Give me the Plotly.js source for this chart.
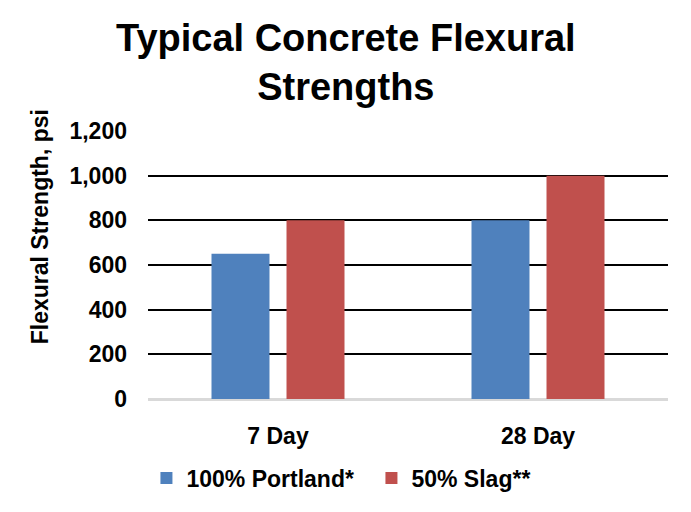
<!DOCTYPE html>
<html>
<head>
<meta charset="utf-8">
<script src="https://cdn.plot.ly/plotly-3.0.1.min.js"></script>
<style>html,body{margin:0;padding:0;background:#fff;}#chart{width:691px;height:512px;}</style>
</head>
<body>
<div id="chart"></div>
<script>
const categories = ['7 Day', '28 Day'];
const seriesNames = ['100% Portland*', '50% Slag**'];
const portland = [650, 800];
const slag = [800, 1000];
const yTickVals = [0, 200, 400, 600, 800, 1000, 1200];
const yTickText = ['0', '200', '400', '600', '800', '1,000', '1,200'];

const F = 'Liberation Sans, Arial, sans-serif';
const data = [
  {type: 'bar', x: categories, y: portland, name: seriesNames[0], marker: {color: '#4F81BD'}},
  {type: 'bar', x: categories, y: slag, name: seriesNames[1], marker: {color: '#C0504D'}}
];
const layout = {
  width: 691, height: 512,
  margin: {l: 148, r: 23, t: 131, b: 109},
  paper_bgcolor: '#fff', plot_bgcolor: '#fff',
  barmode: 'group', bargap: 0.423, bargroupgap: 0.227,
  showlegend: true,
  font: {family: F, color: '#000'},
  xaxis: {showgrid: false, showline: true, linecolor: '#d9d9d9', linewidth: 2,
          tickfont: {family: F, size: 23, color: '#000', weight: 'bold'}, ticks: '',
          ticklabelstandoff: 15, fixedrange: true},
  yaxis: {range: [0, 1200], tickvals: yTickVals, ticktext: yTickText, showgrid: true,
          gridcolor: '#000', gridwidth: 2, zeroline: true, zerolinecolor: '#d9d9d9', zerolinewidth: 2,
          showline: false, ticks: '', ticklen: 0, tickfont: {family: F, size: 23, color: '#000', weight: 'bold'},
          ticklabelstandoff: 20, fixedrange: true},
  legend: {orientation: 'h', x: -0.003, xanchor: 'left', y: -0.215, yanchor: 'top',
           font: {family: F, size: 23, color: '#000', weight: 'bold'}, itemwidth: 30, tracegroupgap: 0,
           entrywidth: 180, entrywidthmode: 'pixels'},
  annotations: [
    {text: 'Typical Concrete Flexural<br>Strengths', xref: 'paper', yref: 'paper',
     x: 0.381, y: 1.434, xanchor: 'center', yanchor: 'top', showarrow: false, align: 'center',
     font: {family: F, size: 38, color: '#000', weight: 'bold'}},
    {text: 'Flexural Strength, psi', textangle: -90, xref: 'paper', yref: 'paper',
     x: -0.206, y: 1.09, xanchor: 'center', yanchor: 'top', showarrow: false,
     font: {family: F, size: 23, color: '#000', weight: 'bold'}}]
};
Plotly.newPlot('chart', data, layout, {displayModeBar: false, staticPlot: true});
</script>
</body>
</html>
